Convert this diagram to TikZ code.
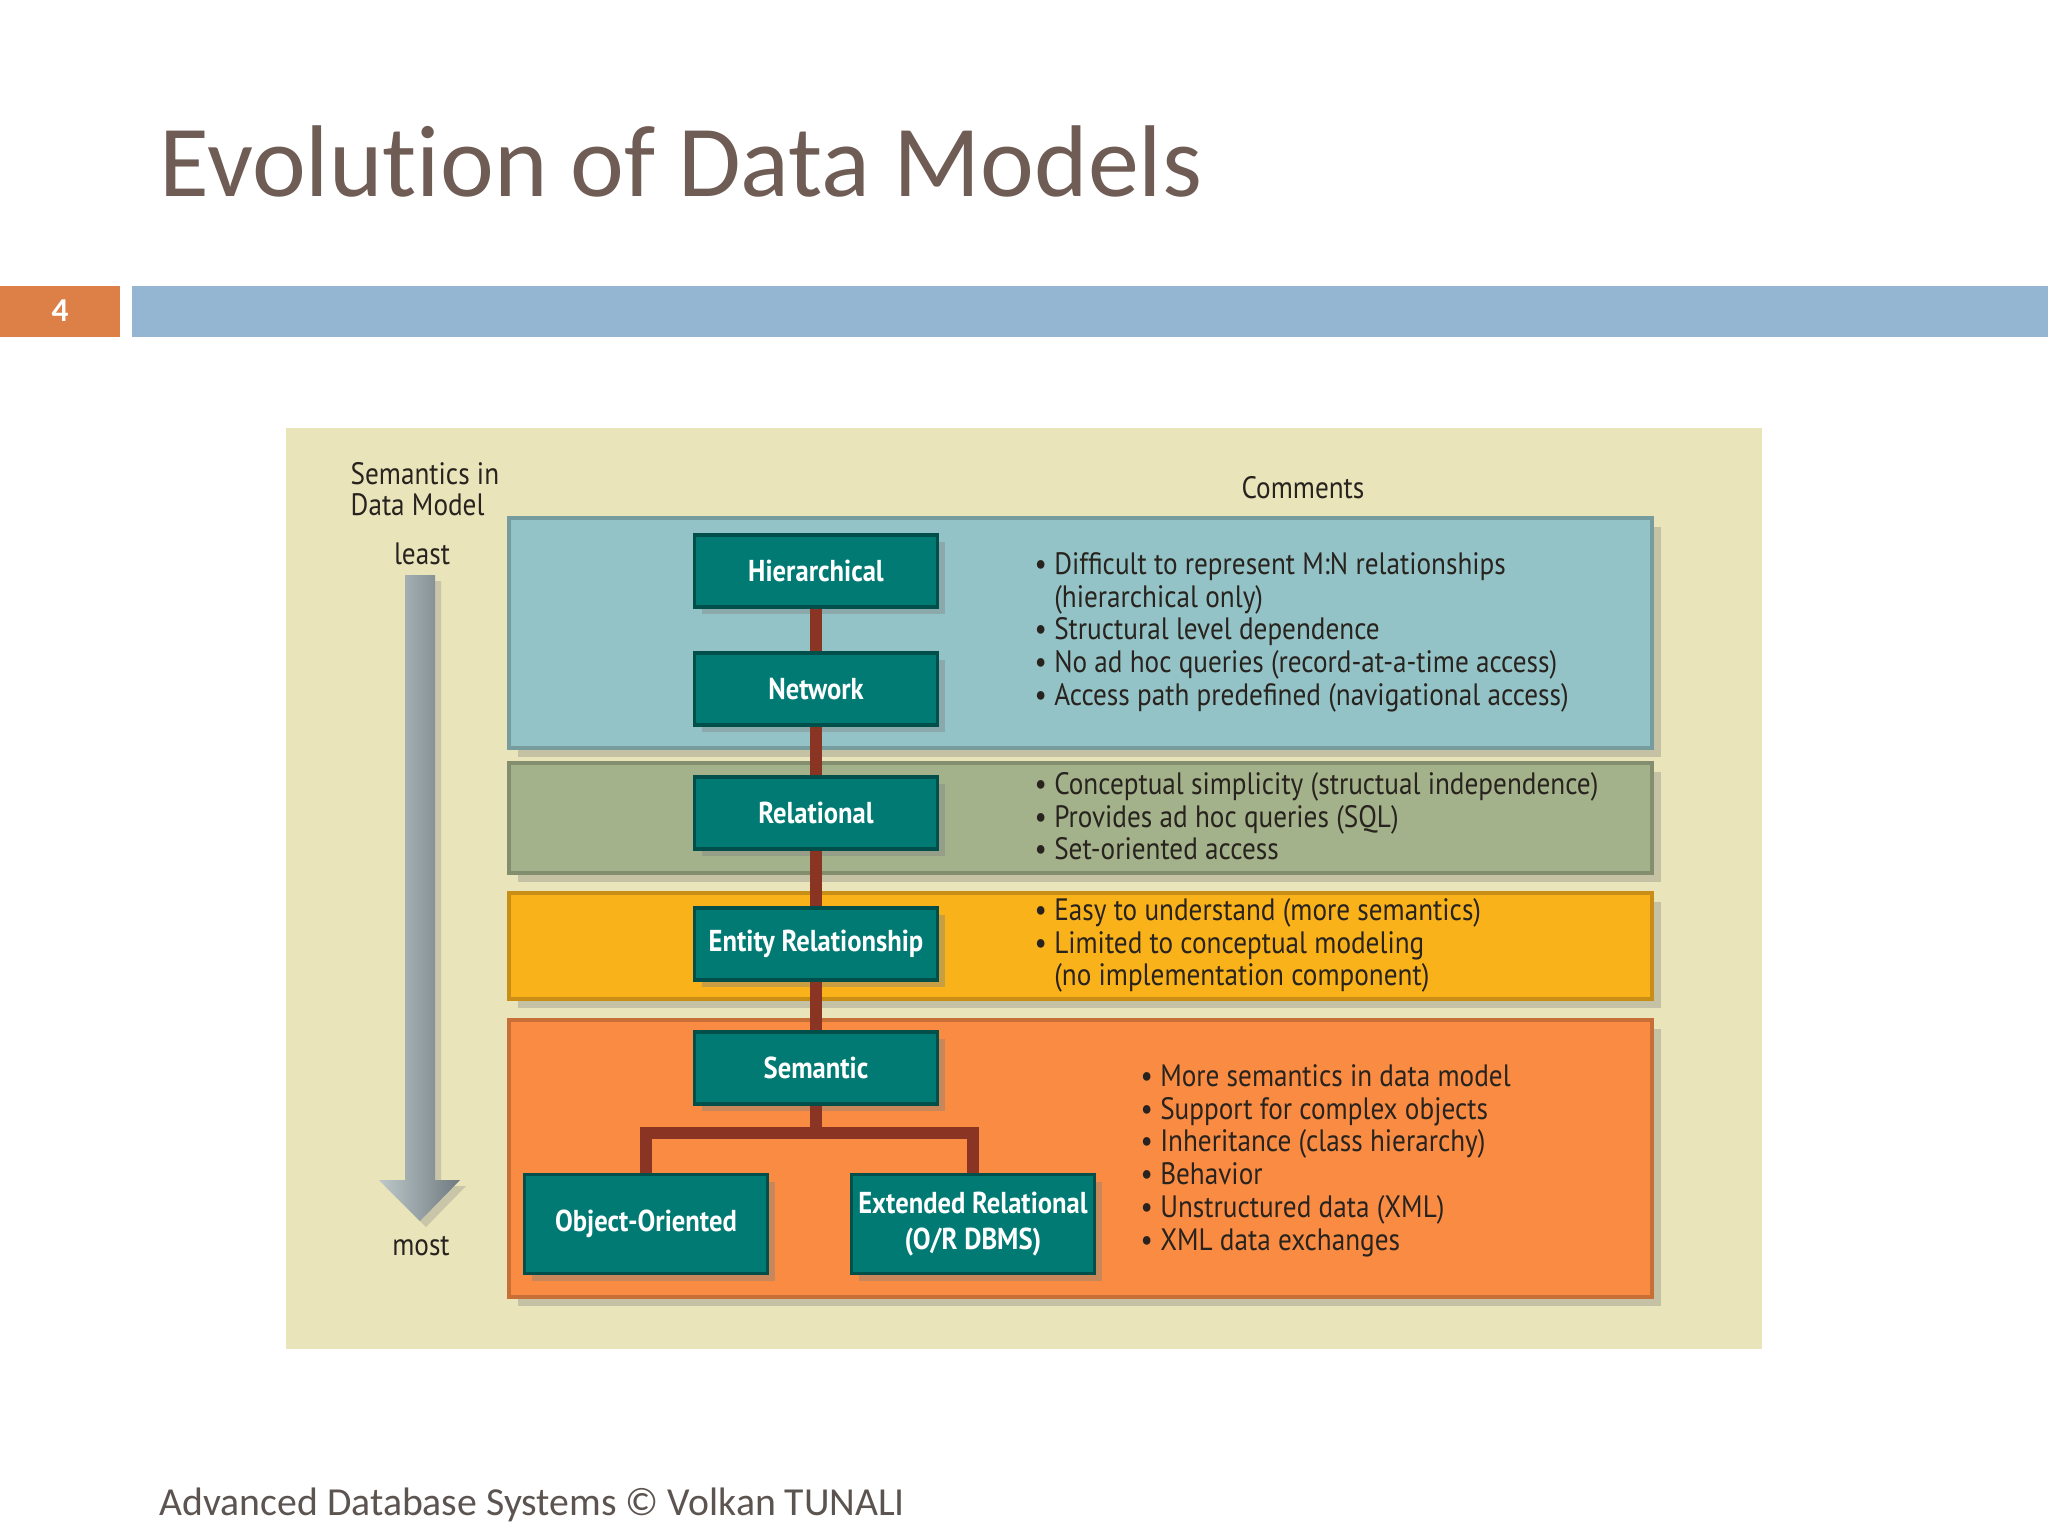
\documentclass[tikz,border=0pt]{standalone}
\usepackage{fontspec}
\setmainfont{Carlito}[Ligatures=NoCommon]
\newfontfamily\diafont{PT Sans}[FakeStretch=0.88]
\usetikzlibrary{
	positioning,
	shadows
}
\definecolor{SlideTitle}{RGB}{110,92,85}
\definecolor{SlideFoot}{RGB}{92,84,80}
\definecolor{TabOrange}{RGB}{221,128,71}
\definecolor{BarBlue}{RGB}{148,182,210}
\definecolor{PanelTan}{RGB}{233,228,186}
\definecolor{BandBlue}{RGB}{147,195,198}
\definecolor{BandGreen}{RGB}{163,178,138}
\definecolor{BandYellow}{RGB}{250,178,27}
\definecolor{BandOrange}{RGB}{249,139,67}
\definecolor{ModelTeal}{RGB}{0,122,115}
\definecolor{LinkBrown}{RGB}{138,52,36}
\definecolor{InkDark}{RGB}{40,35,30}
\definecolor{ArrowLight}{RGB}{190,200,202}
\definecolor{ArrowDark}{RGB}{110,122,128}

\begin{document}
\begin{tikzpicture}[
	x=0.1mm, y=-0.1mm,
	band/.style={
		fill=#1,
		draw=#1!80!black,
		line width=1pt,
		drop shadow={shadow xshift=0.9mm, shadow yshift=-0.9mm, opacity=0.35}
	},
	model/.style={
		fill=ModelTeal,
		draw=ModelTeal!65!black,
		line width=1pt,
		text=white,
		font=\diafont\bfseries\fontsize{8.6}{10}\selectfont,
		minimum width=24.3mm,
		minimum height=7.2mm,
		inner sep=0pt,
		align=center,
		drop shadow={shadow xshift=0.7mm, shadow yshift=-0.7mm, opacity=0.4}
	},
	comment/.style={
		text=InkDark,
		font=\diafont\fontsize{8.8}{9.3}\selectfont,
		align=left,
		inner sep=0pt,
		anchor=north west
	},
	caption/.style={
		text=InkDark,
		font=\diafont\fontsize{8.8}{8.8}\selectfont,
		inner sep=0pt
	},
	link/.style={
		LinkBrown,
		line width=3.4pt
	}
]

% Page and margins
\fill[white] (0,0) rectangle (2048,1536);
\useasboundingbox (0,0) rectangle (2048,1536);

% Slide title
\node[
anchor=base west,
inner sep=0pt,
text=SlideTitle,
font=\fontsize{29}{34}\selectfont
] (title) at (159,196) {Evolution of Data Models};

% Header bar
\fill[TabOrange] (0,286) rectangle (120,337);
\fill[BarBlue] (132,286) rectangle (2048,337);
\node[
text=white,
font=\bfseries\fontsize{9.5}{10}\selectfont
] (pagenum) at (60,311) {4};

% Diagram panel
\fill[PanelTan] (286,428) rectangle (1762,1349);

% Bands
\draw[band=BandBlue] (509,518) rectangle (1652,748);
\draw[band=BandGreen] (509,763) rectangle (1652,873);
\draw[band=BandYellow] (509,893) rectangle (1652,999);
\draw[band=BandOrange] (509,1020) rectangle (1652,1297);

% Semantics arrow
\shade[
left color=ArrowLight,
right color=ArrowDark,
drop shadow={shadow xshift=0.6mm, shadow yshift=-0.6mm, opacity=0.3}
]
(405,575) -- (435,575) -- (435,1180) -- (460,1180)
-- (420,1221) -- (379,1180) -- (405,1180) -- cycle;

% Side captions
\node[caption, align=left, anchor=north west] (semcap) at (350,462)
{Semantics in\\Data Model};
\node[caption] (least) at (422,554) {least};
\node[caption] (most) at (421,1246) {most};
\node[caption] (comments) at (1303,488) {Comments};

% Models
\node[model] (hier) at (816,571) {Hierarchical};
\node[model] (net) at (816,689) {Network};
\node[model] (rel) at (816,813) {Relational};
\node[model] (er) at (816,944) {Entity Relationship};
\node[model] (sem) at (816,1068) {Semantic};
\node[model, minimum height=9.9mm] (oo) at (646,1224) {Object-Oriented};
\node[model, minimum height=9.9mm] (ext) at (973,1224)
{Extended Relational\\(O/R DBMS)};

% Links
\draw[link] (hier) -- (net);
\draw[link] (net) -- (rel);
\draw[link] (rel) -- (er);
\draw[link] (er) -- (sem);
\draw[link] (sem.south) -- ++(0,27) -| (oo.north);
\draw[link] (sem.south) -- ++(0,27) -| (ext.north);

% Comments
\node[comment] (hiercom) at (1034,551) {\strut\textbullet\ Difficult to represent M:N relationships\\
\phantom{\textbullet\ }(hierarchical only)\\
\textbullet\ Structural level dependence\\
\textbullet\ No ad hoc queries (record-at-a-time access)\\
\textbullet\ Access path predefined (navigational access)};

\node[comment] (relcom) at (1034,771) {\strut\textbullet\ Conceptual simplicity (structual independence)\\
\textbullet\ Provides ad hoc queries (SQL)\\
\textbullet\ Set-oriented access};

\node[comment] (ercom) at (1034,897) {\strut\textbullet\ Easy to understand (more semantics)\\
\textbullet\ Limited to conceptual modeling\\
\phantom{\textbullet\ }(no implementation component)};

\node[comment] (semcom) at (1140,1063) {\strut\textbullet\ More semantics in data model\\
\textbullet\ Support for complex objects\\
\textbullet\ Inheritance (class hierarchy)\\
\textbullet\ Behavior\\
\textbullet\ Unstructured data (XML)\\
\textbullet\ XML data exchanges};

% Footer
\node[
anchor=base west,
inner sep=0pt,
text=SlideFoot,
font=\fontsize{11.3}{13}\selectfont
] (footer) at (159,1515) {Advanced Database Systems \textcopyright{} Volkan TUNALI};

\end{tikzpicture}
\end{document}
